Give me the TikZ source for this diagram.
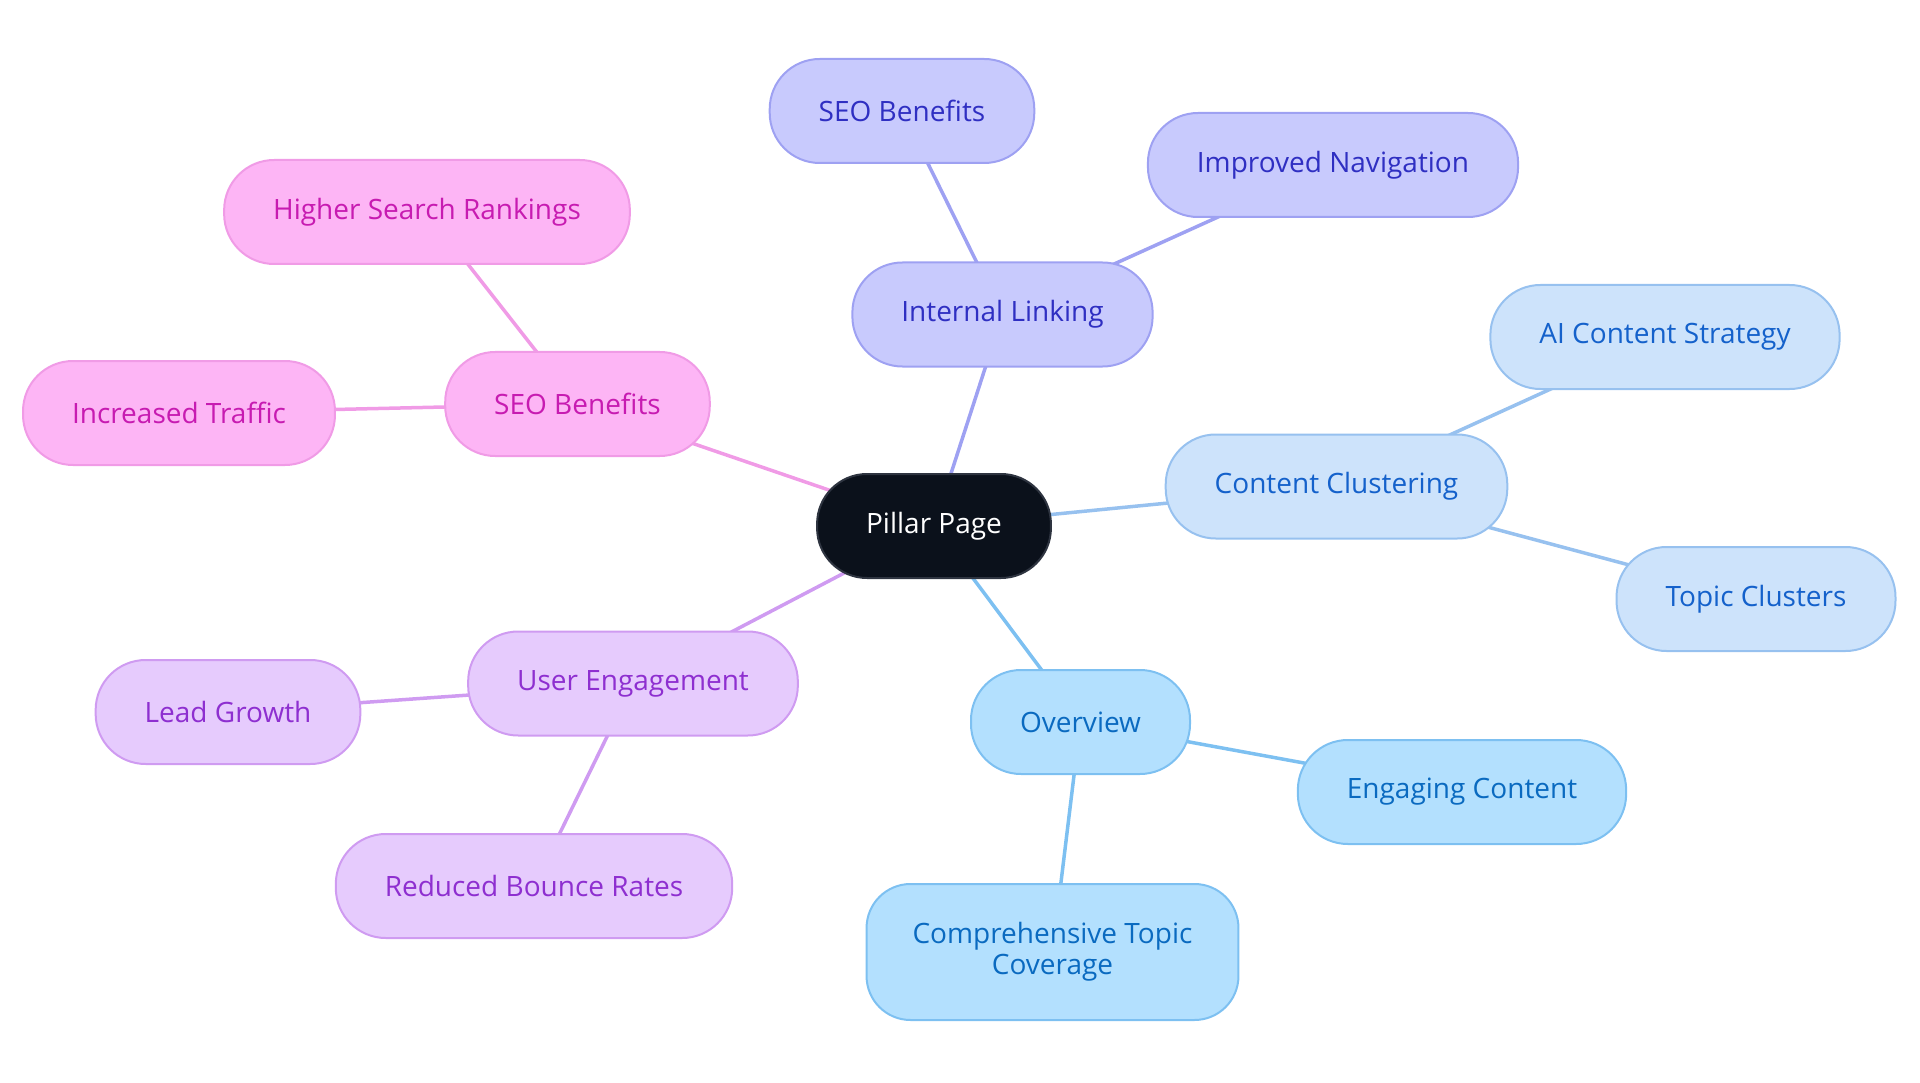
\documentclass[tikz,border=0pt]{standalone}
\usepackage{fontspec}
\setmainfont{Open Sans}
\usetikzlibrary{calc, backgrounds}

\definecolor{rootfill}{HTML}{0B111B}
\definecolor{rootline}{HTML}{2E3440}
\definecolor{seofill}{HTML}{FDB5F5}
\definecolor{seoline}{HTML}{F09BE6}
\definecolor{seotext}{HTML}{C71BB1}
\definecolor{ilfill}{HTML}{C8CAFD}
\definecolor{illine}{HTML}{9EA1F2}
\definecolor{iltext}{HTML}{2F2FC2}
\definecolor{ccfill}{HTML}{CDE3FB}
\definecolor{ccline}{HTML}{97C1EF}
\definecolor{cctext}{HTML}{1461CB}
\definecolor{uefill}{HTML}{E6CBFD}
\definecolor{ueline}{HTML}{CF9BF1}
\definecolor{uetext}{HTML}{8E2FD0}
\definecolor{ovfill}{HTML}{B3E0FE}
\definecolor{ovline}{HTML}{7DC0F1}
\definecolor{ovtext}{HTML}{0A6AC0}

\begin{document}
\begin{tikzpicture}[x=1pt, y=-1pt,
    pill/.style={draw, line width=2pt, rounded corners=50pt, minimum height=104pt,
      inner xsep=49pt, align=center, font=\fontsize{28}{31}\selectfont},
    root/.style={pill, fill=rootfill, draw=rootline, text=white},
    seo/.style={pill, fill=seofill, draw=seoline, text=seotext},
    il/.style={pill, fill=ilfill, draw=illine, text=iltext},
    cc/.style={pill, fill=ccfill, draw=ccline, text=cctext},
    ue/.style={pill, fill=uefill, draw=ueline, text=uetext},
    ov/.style={pill, fill=ovfill, draw=ovline, text=ovtext},
    e/.style={line width=3.5pt}]
  \useasboundingbox (0,0) rectangle (1920,1083);

  \node[root] (pp) at (934,526) {Pillar Page};

  \node[seo] (seo) at ($(pp)+(-356.5,-122)$) {SEO Benefits};
  \node[seo] (hsr) at ($(seo)+(-150.5,-192)$) {Higher Search Rankings};
  \node[seo] (it) at ($(seo)+(-398.5,9)$) {Increased Traffic};

  \node[il] (il) at ($(pp)+(68.5,-211.5)$) {Internal Linking};
  \node[il] (ilseo) at ($(il)+(-100.5,-203.5)$) {SEO Benefits};
  \node[il] (in) at ($(il)+(330.5,-149.5)$) {Improved Navigation};

  \node[cc] (cc) at ($(pp)+(402.5,-39.5)$) {Content Clustering};
  \node[cc] (ai) at ($(cc)+(328.5,-149.5)$) {AI Content Strategy};
  \node[cc] (tc) at ($(cc)+(419.5,112.5)$) {Topic Clusters};

  \node[ue] (ue) at ($(pp)+(-301,157.5)$) {User Engagement};
  \node[ue] (lg) at ($(ue)+(-405,28.5)$) {Lead Growth};
  \node[ue] (rbr) at ($(ue)+(-99,202.5)$) {Reduced Bounce Rates};

  \node[ov] (ov) at ($(pp)+(146.5,196)$) {Overview};
  \node[ov] (ec) at ($(ov)+(381.5,70)$) {Engaging Content};
  \node[ov, minimum height=136pt, rounded corners=44pt, inner xsep=46pt] (ctc)
    at ($(ov)+(-28,230)$) {Comprehensive Topic\\Coverage};

  \begin{scope}[on background layer]
    \draw[e, seoline] (pp.center) -- (seo.center) (seo.center) -- (hsr.center)
      (seo.center) -- (it.center);
    \draw[e, illine] (pp.center) -- (il.center) (il.center) -- (ilseo.center)
      (il.center) -- (in.center);
    \draw[e, ccline] (pp.center) -- (cc.center) (cc.center) -- (ai.center)
      (cc.center) -- (tc.center);
    \draw[e, ueline] (pp.center) -- (ue.center) (ue.center) -- (lg.center)
      (ue.center) -- (rbr.center);
    \draw[e, ovline] (pp.center) -- (ov.center) (ov.center) -- (ec.center)
      (ov.center) -- (ctc.center);
  \end{scope}
\end{tikzpicture}
\end{document}
